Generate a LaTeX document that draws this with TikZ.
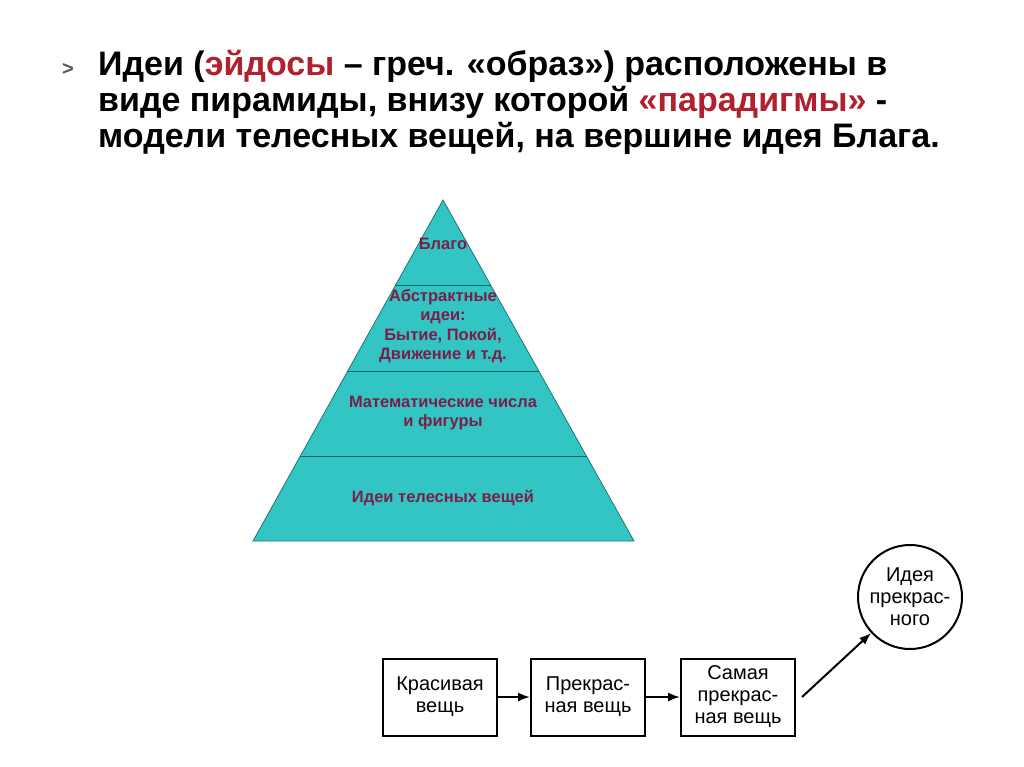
\documentclass[tikz,border=0pt]{standalone}
\usepackage{fontspec}
\setmainfont{Liberation Sans}
\usetikzlibrary{arrows.meta}
\definecolor{teal1}{HTML}{33C4C4}
\definecolor{plum}{HTML}{7A1F4A}
\definecolor{redtx}{HTML}{B0202E}
\tikzset{
  level/.style={font=\bfseries\fontsize{16.5}{19.5}\selectfont, text=plum, align=center},
  stepbox/.style={draw, line width=2pt, minimum width=114pt, minimum height=77pt, align=center, inner sep=1pt, font=\fontsize{20}{22}\selectfont},
  flow/.style={-{Latex[length=12pt,width=9pt]}, line width=2pt}
}
\begin{document}
\begin{tikzpicture}[x=1pt,y=-1pt]
\useasboundingbox (0,0) rectangle (1024,767);

% Title
\node[text=gray!70!black, font=\bfseries\fontsize{20}{20}\selectfont] (bullet) at (68,70) {>};
\node[anchor=north west, align=left, inner sep=0pt, font=\bfseries\fontsize{34}{36}\selectfont] (title) at (98,50)
  {Идеи (\textcolor{redtx}{эйдосы} – греч. «образ») расположены в\\
   виде пирамиды, внизу которой \textcolor{redtx}{«парадигмы»} -\\
   модели телесных вещей, на вершине идея Блага.};

% Pyramid
\coordinate (apex) at (443,200);
\coordinate (bl) at (253,541);
\coordinate (br) at (634,541);
\fill[teal1] (apex) -- (br) -- (bl) -- cycle;
\begin{scope}
  \clip (apex) -- (br) -- (bl) -- cycle;
  \foreach \y in {285,371,456}
    \draw[teal1!50!black, line width=0.8pt] (240,\y) -- (650,\y);
\end{scope}
\draw[teal1!60!black, line width=0.8pt] (apex) -- (br) -- (bl) -- cycle;
\node[level] (top) at (443,244) {Благо};
\node[level] (abstract) at (443,326) {Абстрактные\\идеи:\\Бытие, Покой,\\Движение и т.д.};
\node[level] (math) at (443,413) {Математические числа\\и фигуры};
\node[level] (bodies) at (443,498) {Идеи телесных вещей};

% Chain
\node[stepbox] (b1) at (440,697) {Красивая\\вещь};
\node[stepbox] (b2) at (588,697) {Прекрас-\\ная вещь};
\node[stepbox] (b3) at (738,697) {Самая\\прекрас-\\ная вещь};
\node[draw, circle, line width=2pt, minimum size=104pt, inner sep=0pt, align=center, font=\fontsize{20}{22}\selectfont] (idea) at (910,597) {Идея\\прекрас-\\ного};
\draw[flow] (b1) -- (b2);
\draw[flow] (b2) -- (b3);
\draw[flow] (b3.east) ++(6,0) coordinate (s3) (s3) -- (idea);
\end{tikzpicture}
\end{document}
